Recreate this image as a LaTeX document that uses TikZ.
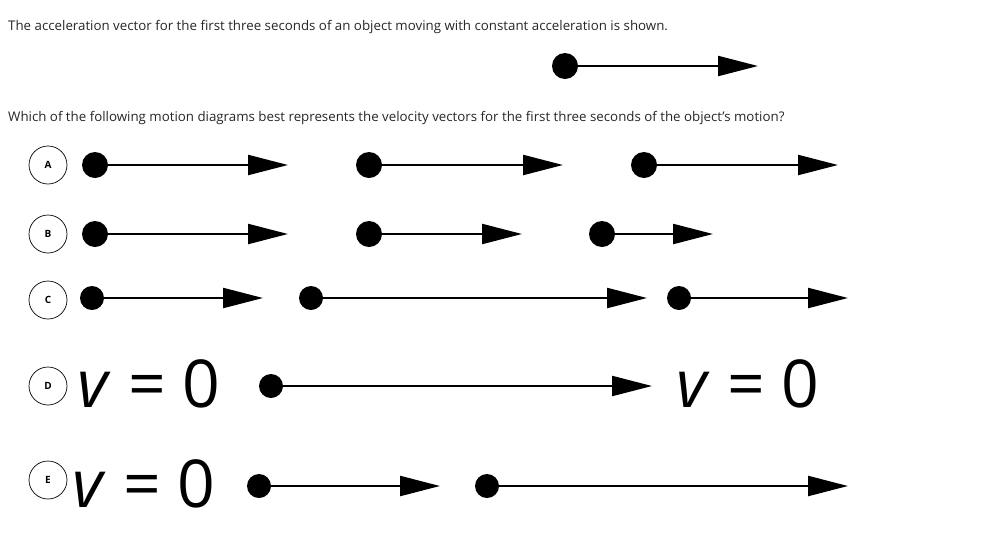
\documentclass[tikz,border=0pt]{standalone}
\usepackage{fontspec}
\setmainfont{Open Sans}
\usetikzlibrary{arrows.meta}
\begin{document}
\begin{tikzpicture}[x=1pt,y=-1pt,
  dotn/.style={circle,fill=black,inner sep=0pt,minimum size=26pt},
  vec/.style={line width=2.2pt,-{Triangle[length=40pt,width=20pt]},shorten <=-2pt},
  optc/.style={circle,draw,line width=0.7pt,minimum size=38pt,inner sep=0pt,font=\fontsize{10}{12}\selectfont\bfseries},
  txt/.style={anchor=west,inner sep=0pt,font=\fontsize{13.3}{15}\selectfont,text=black!85},
  vz/.style={anchor=center,inner sep=0pt,font=\fontsize{66}{70}\selectfont}]
\useasboundingbox (0,0) rectangle (1001,539);
\node[txt] (t1) at (8,27) {The acceleration vector for the first three seconds of an object moving with constant acceleration is shown.};
\node[txt] (t2) at (8,118) {Which of the following motion diagrams best represents the velocity vectors for the first three seconds of the object's motion?};
% top
\node[dotn] (a0) at (565,66) {}; \coordinate (a0e) at (758,66); \draw[vec] (a0.center) -- (a0e);
% labels
\foreach \l/\y in {A/165,B/234,C/300,D/386,E/480} \node[optc] (o\l) at (48,\y) {\l};
% generic
\foreach \n/\x/\e/\y/\s in {A1/95/288/165/26,A2/369/563/165/26,A3/644/838/165/26,
  B1/95/288/234/26,B2/369/522/234/26,B3/602/713/234/26,
  C1/92/263/298/24,C2/311/647/298/24,C3/679/848/298/24,
  D1/271/652/386/24,E1/259/440/486/24,E2/487/848/486/24}{
  \node[dotn,minimum size=\s pt] (\n) at (\x,\y) {};
  \coordinate (\n e) at (\e,\y);
  \draw[vec] (\n.center) -- (\n e);
}
\node[vz] (vd1) at (149,384) {\textit{v} = 0};
\node[vz] (vd2) at (748,384) {\textit{v} = 0};
\node[vz] (ve1) at (144,484) {\textit{v} = 0};
\end{tikzpicture}
\end{document}
